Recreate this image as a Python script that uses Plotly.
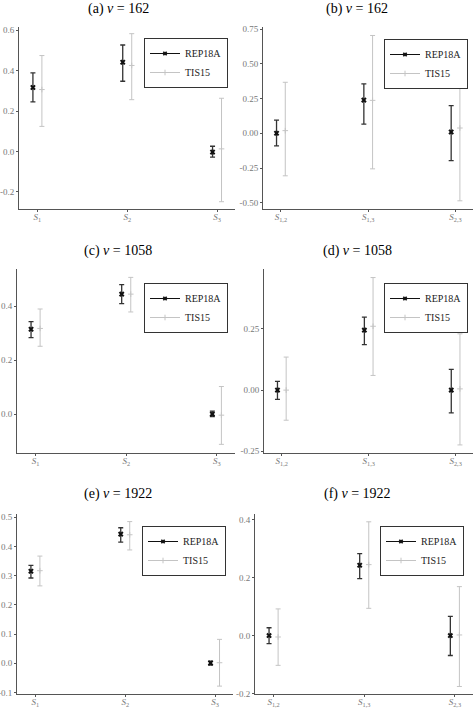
import plotly.graph_objects as go

# tick labels
single_labels = ["<i>S</i><sub>1</sub>", "<i>S</i><sub>2</sub>", "<i>S</i><sub>3</sub>"]
pair_labels = ["<i>S</i><sub>1,2</sub>", "<i>S</i><sub>1,3</sub>", "<i>S</i><sub>2,3</sub>"]
titles = ["(a) <i>ν</i> = 162", "(b) <i>ν</i> = 162",
          "(c) <i>ν</i> = 1058", "(d) <i>ν</i> = 1058",
          "(e) <i>ν</i> = 1922", "(f) <i>ν</i> = 1922"]

# (a) first order, nu = 162
rep_a = [0.316, 0.441, -0.003]
rep_a_lo = [0.245, 0.347, -0.028]
rep_a_hi = [0.388, 0.526, 0.026]
tis_a = [0.306, 0.425, 0.013]
tis_a_lo = [0.124, 0.256, -0.248]
tis_a_hi = [0.474, 0.582, 0.263]

# (b) second order, nu = 162
rep_b = [0.0, 0.239, 0.009]
rep_b_lo = [-0.090, 0.066, -0.197]
rep_b_hi = [0.095, 0.355, 0.199]
tis_b = [0.019, 0.237, 0.038]
tis_b_lo = [-0.306, -0.256, -0.486]
tis_b_hi = [0.367, 0.704, 0.560]

# (c) first order, nu = 1058
rep_c = [0.314, 0.444, 0.0]
rep_c_lo = [0.283, 0.409, -0.009]
rep_c_hi = [0.342, 0.479, 0.011]
tis_c = [0.317, 0.444, -0.004]
tis_c_lo = [0.251, 0.378, -0.112]
tis_c_hi = [0.389, 0.506, 0.102]

# (d) second order, nu = 1058
rep_d = [0.0, 0.245, 0.0]
rep_d_lo = [-0.038, 0.186, -0.093]
rep_d_hi = [0.036, 0.298, 0.085]
tis_d = [0.0, 0.261, 0.005]
tis_d_lo = [-0.123, 0.060, -0.224]
tis_d_hi = [0.135, 0.460, 0.230]

# (e) first order, nu = 1922
rep_e = [0.315, 0.442, 0.001]
rep_e_lo = [0.292, 0.415, -0.006]
rep_e_hi = [0.335, 0.464, 0.007]
tis_e = [0.317, 0.440, 0.002]
tis_e_lo = [0.265, 0.388, -0.078]
tis_e_hi = [0.367, 0.485, 0.082]

# (f) second order, nu = 1922
rep_f = [0.0, 0.243, 0.0]
rep_f_lo = [-0.028, 0.197, -0.069]
rep_f_hi = [0.027, 0.283, 0.066]
tis_f = [-0.005, 0.245, 0.002]
tis_f_lo = [-0.103, 0.094, -0.176]
tis_f_hi = [0.092, 0.393, 0.169]

# y ticks per panel
yticks_a = [-0.2, 0.0, 0.2, 0.4, 0.6]
ylabels_a = ["-0.2", "0.0", "0.2", "0.4", "0.6"]
yticks_b = [-0.5, -0.25, 0.0, 0.25, 0.5, 0.75]
ylabels_b = ["-0.50", "-0.25", "0.00", "0.25", "0.50", "0.75"]
yticks_c = [0.0, 0.2, 0.4]
ylabels_c = ["0.0", "0.2", "0.4"]
yticks_d = [-0.25, 0.0, 0.25]
ylabels_d = ["-0.25", "0.00", "0.25"]
yticks_e = [-0.1, 0.0, 0.1, 0.2, 0.3, 0.4, 0.5]
ylabels_e = ["-0.1", "0.0", "0.1", "0.2", "0.3", "0.4", "0.5"]
yticks_f = [-0.2, 0.0, 0.2, 0.4]
ylabels_f = ["-0.2", "0.0", "0.2", "0.4"]

W, H = 474, 708
SERIF = "Liberation Serif, DejaVu Serif, serif"
REP_COL = "#111111"
TIS_COL = "#c4c4c4"


def px_x(p):
    return p / W


def px_y(p):
    return 1 - p / H


panels = [
    (rep_a, rep_a_lo, rep_a_hi, tis_a, tis_a_lo, tis_a_hi, single_labels, yticks_a, ylabels_a, [-0.284, 0.615]),
    (rep_b, rep_b_lo, rep_b_hi, tis_b, tis_b_lo, tis_b_hi, pair_labels, yticks_b, ylabels_b, [-0.545, 0.765]),
    (rep_c, rep_c_lo, rep_c_hi, tis_c, tis_c_lo, tis_c_hi, single_labels, yticks_c, ylabels_c, [-0.144, 0.537]),
    (rep_d, rep_d_lo, rep_d_hi, tis_d, tis_d_lo, tis_d_hi, pair_labels, yticks_d, ylabels_d, [-0.257, 0.495]),
    (rep_e, rep_e_lo, rep_e_hi, tis_e, tis_e_lo, tis_e_hi, single_labels, yticks_e, ylabels_e, [-0.105, 0.511]),
    (rep_f, rep_f_lo, rep_f_hi, tis_f, tis_f_lo, tis_f_hi, pair_labels, yticks_f, ylabels_f, [-0.202, 0.420]),
]

# pixel boxes of plotting areas in the window: (left, right, top, bottom)
boxes = [(19, 235, 27, 209), (263, 473, 27, 209),
         (17, 235, 269, 453), (264, 473, 269, 453),
         (17, 233, 514, 694), (255, 473, 514, 694)]
# legend top-right corners in pixels
legend_pos = [(228, 38), (468, 39), (228, 283), (468, 283), (226, 526), (464, 526)]
title_pos = [(118, 9), (357, 9), (118, 251), (357, 251), (118, 494), (357, 494)]

dodge = 0.05
fig = go.Figure()
annotations = []

for i, (rep, rep_lo, rep_hi, tis, tis_lo, tis_hi, xlabels, yt, yl, yr) in enumerate(panels):
    n = i + 1
    xa = "x" if n == 1 else "x%d" % n
    ya = "y" if n == 1 else "y%d" % n
    lg = "legend" if n == 1 else "legend%d" % n
    pos = list(range(1, len(xlabels) + 1))

    fig.add_scatter(
        x=[p - dodge for p in pos], y=rep, xaxis=xa, yaxis=ya, mode="markers",
        marker=dict(symbol="x", size=5, color=REP_COL, line=dict(width=0)),
        error_y=dict(type="data", symmetric=False,
                     array=[h - m for h, m in zip(rep_hi, rep)],
                     arrayminus=[m - l for m, l in zip(rep, rep_lo)],
                     color="#333333", thickness=1.3, width=2.5),
        showlegend=False)
    fig.add_scatter(
        x=[p + dodge for p in pos], y=tis, xaxis=xa, yaxis=ya, mode="markers",
        marker=dict(symbol="cross-thin", size=4, color=TIS_COL,
                    line=dict(width=1, color=TIS_COL)),
        error_y=dict(type="data", symmetric=False,
                     array=[h - m for h, m in zip(tis_hi, tis)],
                     arrayminus=[m - l for m, l in zip(tis, tis_lo)],
                     color=TIS_COL, thickness=1, width=2.5),
        showlegend=False)

    # legend entries
    fig.add_scatter(x=[None], y=[None], xaxis=xa, yaxis=ya, name="REP18A",
                    mode="lines+markers", legend=lg,
                    line=dict(color=REP_COL, width=1),
                    marker=dict(symbol="x", size=4, color=REP_COL, line=dict(width=0)))
    fig.add_scatter(x=[None], y=[None], xaxis=xa, yaxis=ya, name="TIS15",
                    mode="lines+markers", legend=lg,
                    line=dict(color=TIS_COL, width=1),
                    marker=dict(symbol="cross-thin", size=4, color=TIS_COL,
                                line=dict(width=1, color=TIS_COL)))

    l, r, t, b = boxes[i]
    axis_common = dict(showline=True, linecolor="#555555", linewidth=1,
                       showgrid=False, zeroline=False, ticks="outside",
                       ticklen=2, tickcolor="#555555", automargin=False,
                       tickfont=dict(family=SERIF, size=9, color="#777777"))
    fig.layout["xaxis" if n == 1 else "xaxis%d" % n] = dict(
        domain=[px_x(l), px_x(r)], anchor=ya, range=[0.795, 3.2],
        tickvals=pos, ticktext=xlabels, ticklabelstandoff=-3, **axis_common)
    fig.layout["yaxis" if n == 1 else "yaxis%d" % n] = dict(
        domain=[px_y(b), px_y(t)], anchor=xa, range=yr,
        tickvals=yt, ticktext=yl, **axis_common)

    lx, ly = legend_pos[i]
    fig.layout[lg] = dict(x=px_x(lx), y=px_y(ly), xanchor="right", yanchor="top",
                          bgcolor="white", bordercolor="#333333", borderwidth=1,
                          font=dict(family=SERIF, size=10, color="#222222"),
                          itemwidth=30, tracegroupgap=0)

    tx, ty = title_pos[i]
    annotations.append(dict(text=titles[i], x=px_x(tx), y=px_y(ty), xref="paper",
                            yref="paper", showarrow=False, xanchor="center",
                            yanchor="middle",
                            font=dict(family=SERIF, size=14, color="black")))

fig.update_layout(width=W, height=H,
                  margin=dict(l=0, r=0, t=0, b=0, autoexpand=False),
                  plot_bgcolor="white", paper_bgcolor="white",
                  annotations=annotations)
# drop the page's default body margin so the figure fills the window
fig.write_html("out.html", config={"displayModeBar": False},
               post_script="document.body.style.margin='0';"
                           "document.body.style.overflow='hidden';")
